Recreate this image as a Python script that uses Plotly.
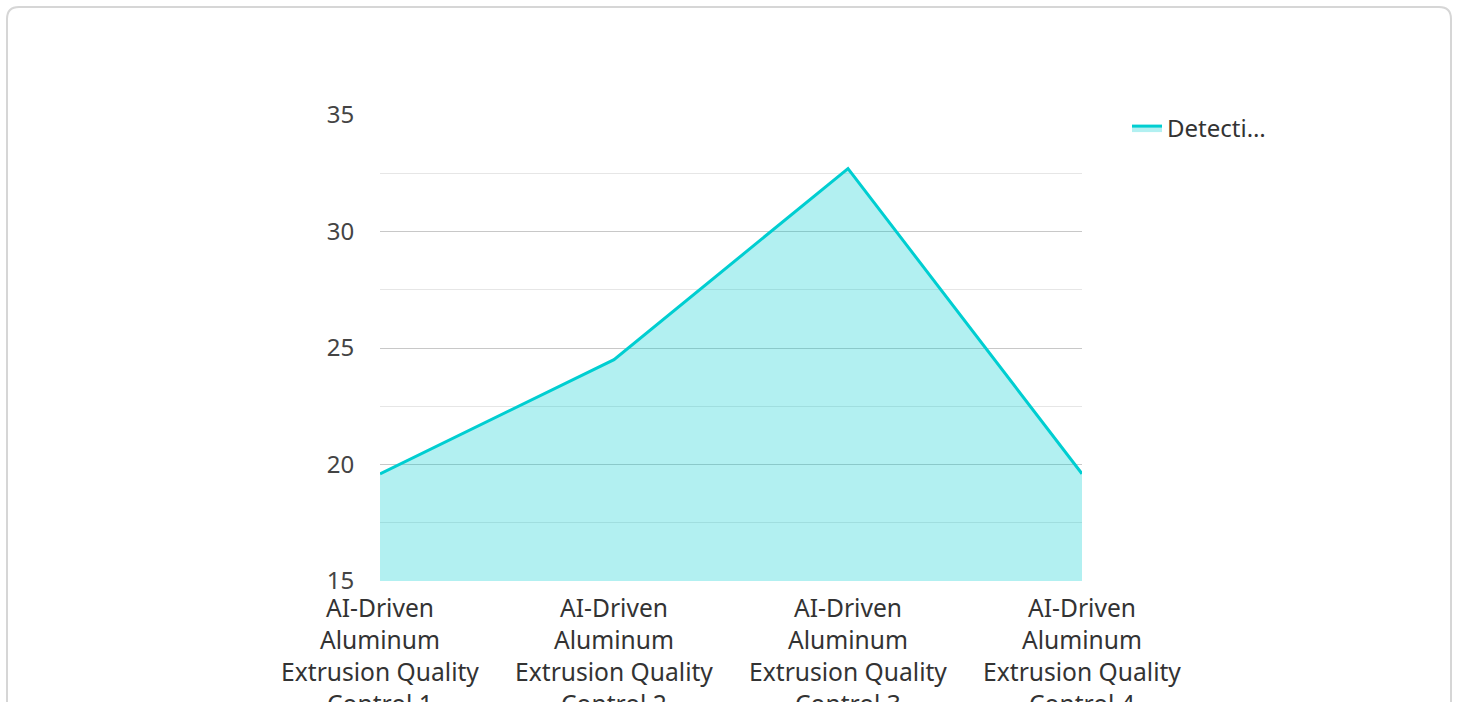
import plotly.graph_objects as go

# Data
categories = [
    "AI-Driven<br>Aluminum<br>Extrusion Quality<br>Control 1",
    "AI-Driven<br>Aluminum<br>Extrusion Quality<br>Control 2",
    "AI-Driven<br>Aluminum<br>Extrusion Quality<br>Control 3",
    "AI-Driven<br>Aluminum<br>Extrusion Quality<br>Control 4",
]
detection_values = [19.6, 24.5, 32.7, 19.6]
series_name = "Detecti…"
y_ticks = [15, 20, 25, 30, 35]

W, H = 1458, 702
L, R, T, B = 380, 376, 115, 121
pw, ph = W - L - R, H - T - B


def px_x(x):
    return (x - L) / pw


def px_y(y):
    return (H - B - y) / ph


fig = go.Figure()
fig.add_trace(go.Scatter(
    x=categories,
    y=detection_values,
    mode="lines",
    name=series_name,
    line=dict(color="#00CED1", width=3),
    fill="tozeroy",
    fillcolor="rgba(0,206,209,0.3)",
    showlegend=True,
))

# Rounded card outline around the chart
x0, y0, x1, y1, r = 7, 7, 1451, 730, 12
card_path = (
    f"M {px_x(x0 + r)},{px_y(y0)} L {px_x(x1 - r)},{px_y(y0)} "
    f"Q {px_x(x1)},{px_y(y0)} {px_x(x1)},{px_y(y0 + r)} "
    f"L {px_x(x1)},{px_y(y1)} L {px_x(x0)},{px_y(y1)} "
    f"L {px_x(x0)},{px_y(y0 + r)} "
    f"Q {px_x(x0)},{px_y(y0)} {px_x(x0 + r)},{px_y(y0)} Z"
)
fig.add_shape(type="path", path=card_path, xref="paper", yref="paper",
              line=dict(color="#d6d6d6", width=2), layer="below")

fig.update_layout(
    width=W, height=H,
    margin=dict(l=L, r=R, t=T, b=B, pad=0, autoexpand=False),
    paper_bgcolor="white",
    plot_bgcolor="white",
    font=dict(family="Noto Sans, Open Sans, sans-serif", color="#333333", size=24),
    legend=dict(
        x=px_x(1127), y=px_y(106), xanchor="left", yanchor="top",
        font=dict(size=24, color="#333333"),
        bgcolor="rgba(0,0,0,0)",
    ),
    xaxis=dict(
        type="category",
        range=[0, 3],
        automargin=False,
        showgrid=False,
        showline=False,
        zeroline=False,
        ticks="",
        ticklabelstandoff=10,
        tickfont=dict(size=24.6, color="#333333"),
    ),
    yaxis=dict(
        range=[15, 35],
        tickvals=y_ticks,
        automargin=False,
        showgrid=True,
        gridcolor="#c8c8c8",
        gridwidth=1,
        zeroline=False,
        showline=True,
        linecolor="rgba(0,0,0,0)",
        ticks="",
        ticklabelstandoff=20,
        tickfont=dict(size=24, color="#444444"),
        minor=dict(dtick=2.5, showgrid=True, gridcolor="#e6e6e6", gridwidth=1),
    ),
)

fig.write_html("out.html")
